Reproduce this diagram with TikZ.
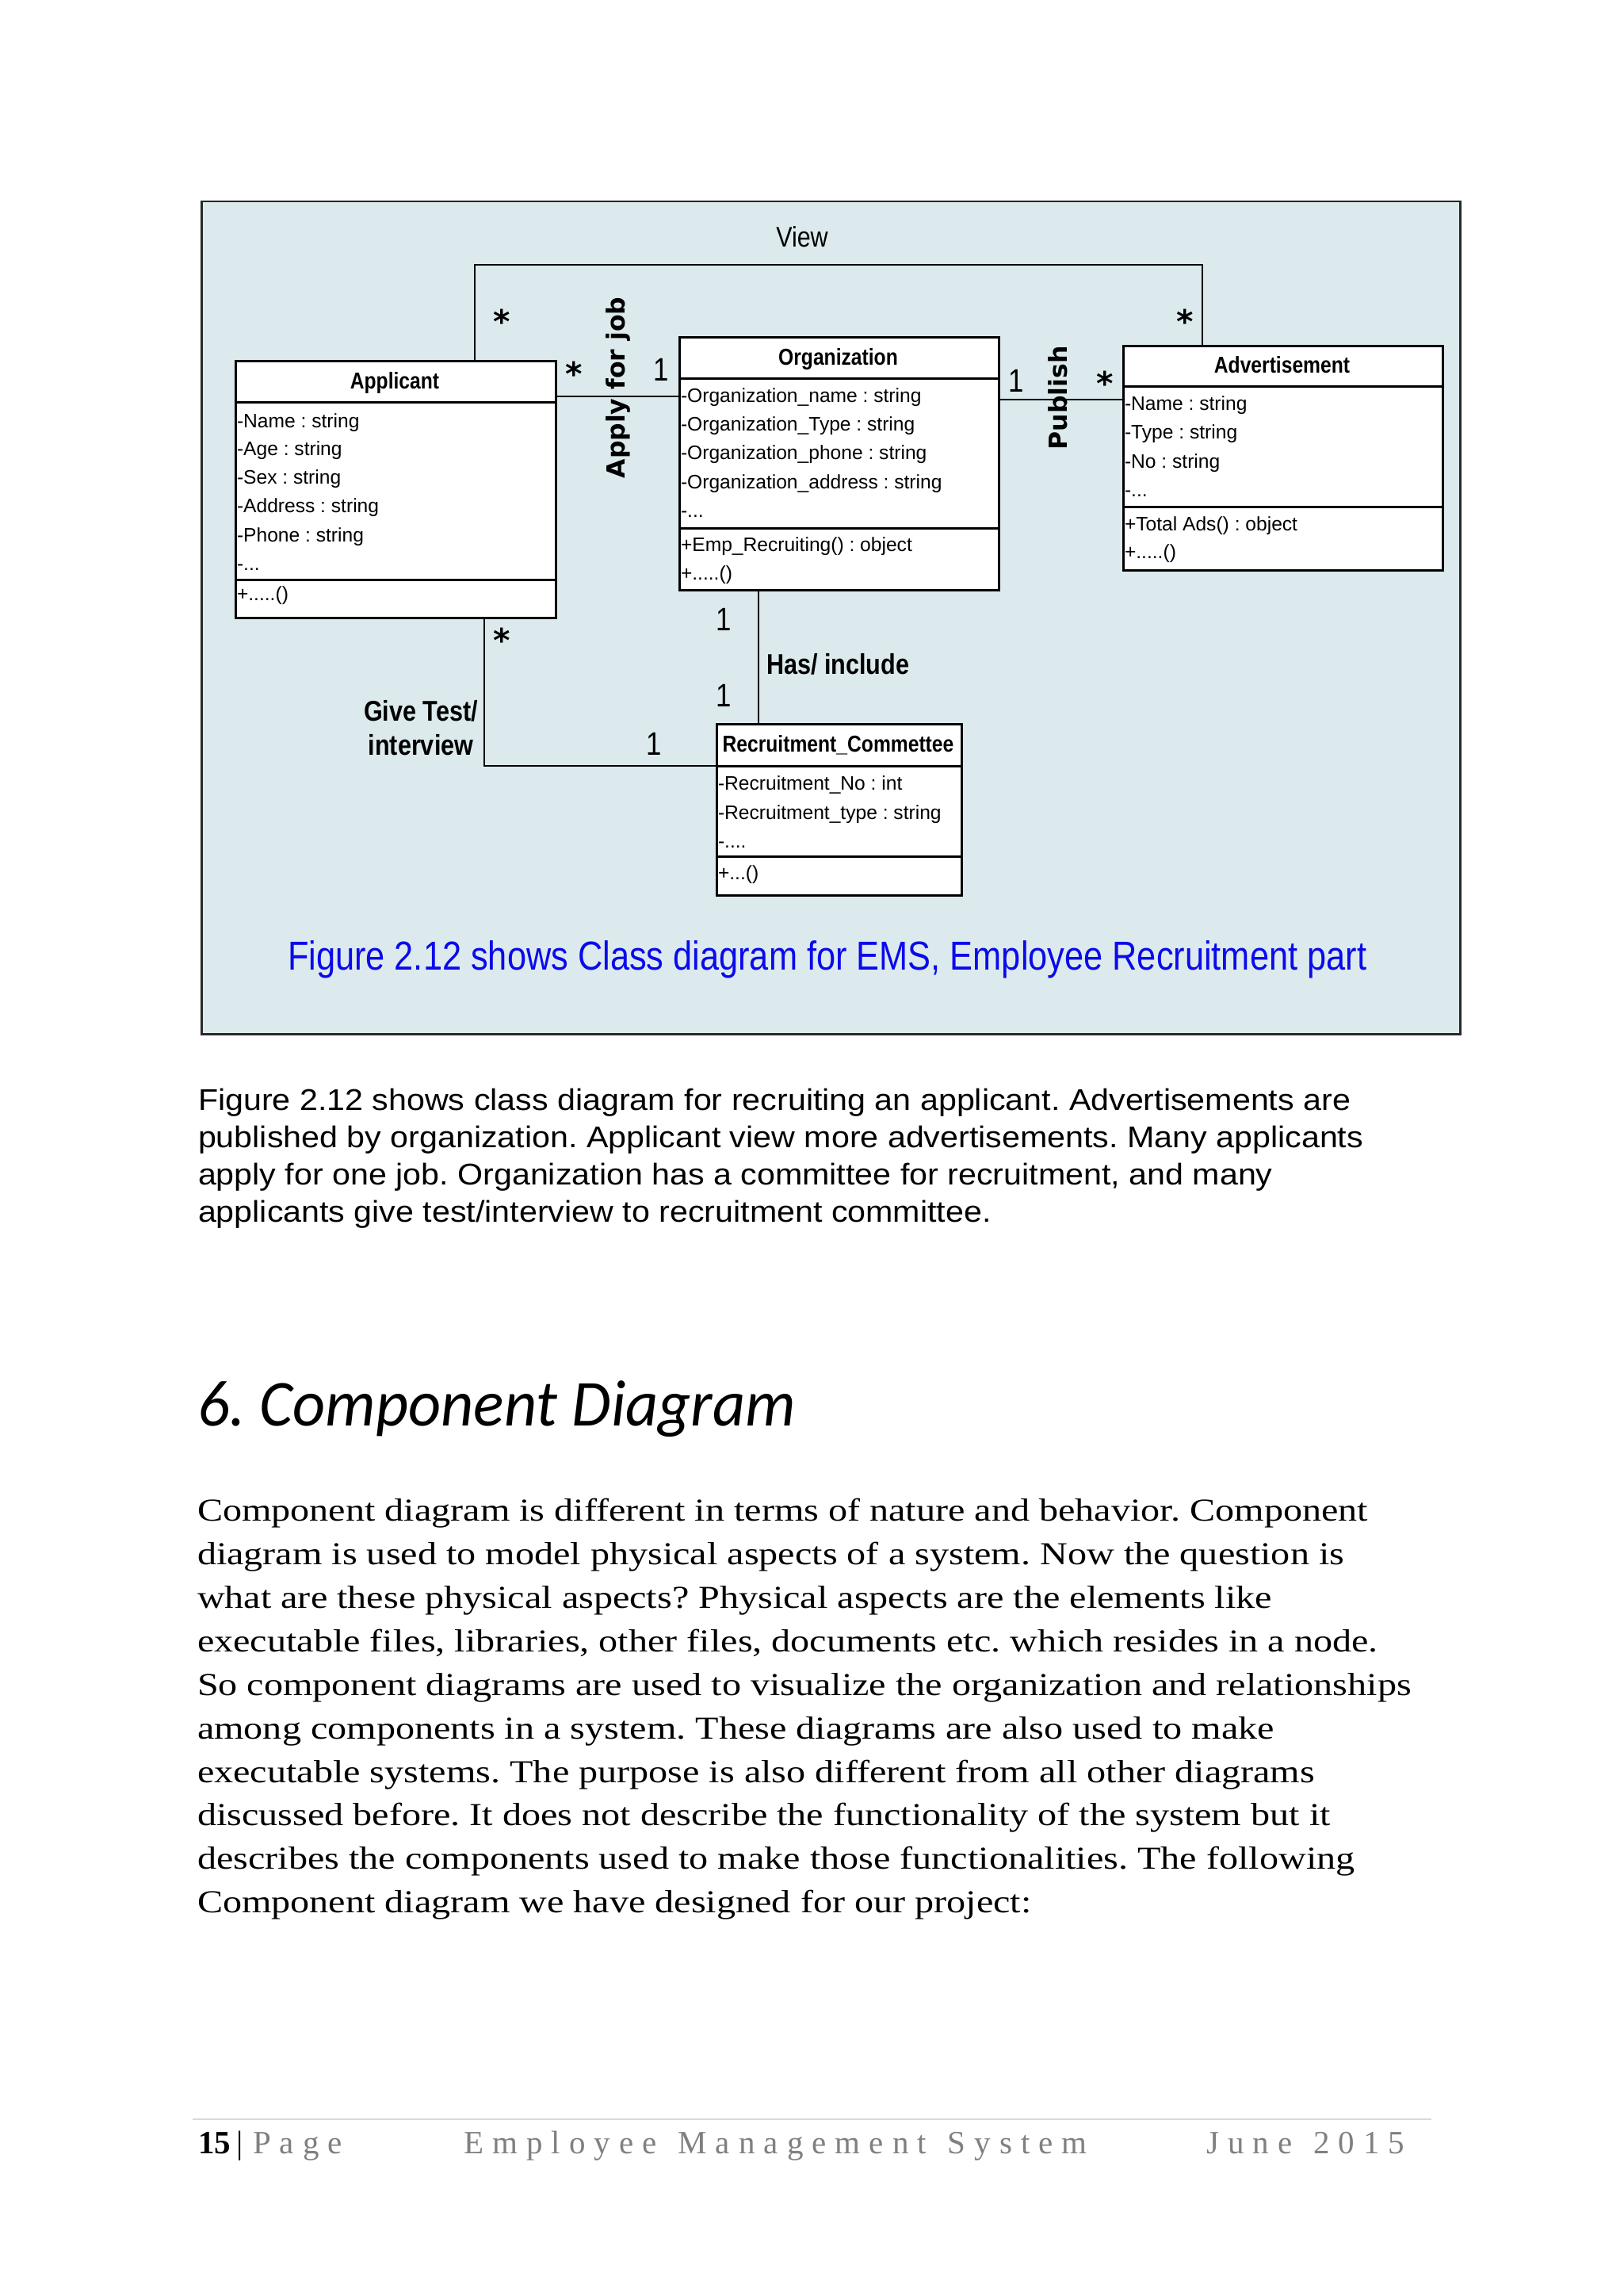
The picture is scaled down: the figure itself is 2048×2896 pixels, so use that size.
\documentclass[tikz,border=0pt]{standalone}
\usepackage{fontspec}
\setmainfont{Liberation Serif}
\newfontfamily\attrf{Liberation Sans}
\newfontfamily\narf[FakeStretch=0.85]{Liberation Sans}
\newfontfamily\rotf{DejaVu Sans}
\newfontfamily\paraf[FakeStretch=1.09]{Liberation Sans}
\newfontfamily\bodyf[FakeStretch=1.195]{Liberation Serif}
\newfontfamily\headf[FakeStretch=0.97]{Carlito}
\newfontfamily\footf[LetterSpace=27]{Liberation Serif}
\definecolor{bgc}{RGB}{220,234,237}
\definecolor{framec}{RGB}{40,40,40}
\definecolor{capblue}{RGB}{10,10,235}
\definecolor{footgray}{RGB}{128,128,128}
\definecolor{footline}{RGB}{217,217,217}
\newcommand\fgap{\hspace{1.6pt}}
\begin{document}
\frenchspacing
\begin{tikzpicture}[x=0.3pt,y=-0.3pt,
  txt/.style={inner sep=0pt, outer sep=0pt},
  cls/.style={draw=black, fill=white, line width=0.9pt, inner sep=0pt, anchor=north west},
  sep/.style={draw=black, line width=0.9pt},
  conn/.style={draw=black, line width=0.75pt},
  attr/.style={txt, anchor=base west, font=\attrf\fontsize{7.38}{8}\selectfont},
  ttl/.style={txt, anchor=base, font=\narf\bfseries\fontsize{8.7}{9}\selectfont},
  mult/.style={txt, anchor=base, font=\narf\fontsize{12.3}{13}\selectfont},
  star/.style={txt, anchor=base, font=\rotf\bfseries\fontsize{12.3}{13}\selectfont},
  lbl/.style={txt, font=\narf\bfseries\fontsize{10.8}{12.9}\selectfont},
  rot/.style={txt, anchor=base, rotate=90, font=\rotf\bfseries\fontsize{9.45}{10}\selectfont},
  para/.style={txt, anchor=base west, font=\paraf\fontsize{11.34}{13}\selectfont},
  body/.style={txt, anchor=base west, font=\bodyf\fontsize{12.09}{14}\selectfont},
  foot/.style={txt, anchor=base west, text=footgray, font=\footf\fontsize{12.3}{13}\selectfont},
]
\useasboundingbox (0,0) rectangle (2048,2896);
\fill[white] (0,0) rectangle (2048,2896);

% panel
\node[draw=framec, fill=bgc, line width=0.75pt, inner sep=0pt, anchor=north west,
      minimum width=476.4pt, minimum height=315pt] (panel) at (253,253) {};

% class boxes
\node[cls, minimum width=121.2pt, minimum height=97.2pt] (app) at (296,454) {};
\node[cls, minimum width=120.9pt, minimum height=95.7pt] (org) at (856,424) {};
\node[cls, minimum width=120.9pt, minimum height=84.9pt] (adv) at (1416,435) {};
\node[cls, minimum width=92.7pt, minimum height=64.8pt] (rec) at (903,912) {};

% compartments
\draw[sep] (app.west |- 0,508) -- (app.east |- 0,508);
\draw[sep] (app.west |- 0,731) -- (app.east |- 0,731);
\draw[sep] (org.west |- 0,478) -- (org.east |- 0,478);
\draw[sep] (org.west |- 0,666) -- (org.east |- 0,666);
\draw[sep] (adv.west |- 0,488) -- (adv.east |- 0,488);
\draw[sep] (adv.west |- 0,639) -- (adv.east |- 0,639);
\draw[sep] (rec.west |- 0,966) -- (rec.east |- 0,966);
\draw[sep] (rec.west |- 0,1080) -- (rec.east |- 0,1080);

% Applicant text
\node[ttl] (appt) at (498,491) {Applicant};
\node[attr] (appa1) at (299,539) {-Name : string};
\node[attr] (appa2) at (299,575) {-Age : string};
\node[attr] (appa3) at (299,611) {-Sex : string};
\node[attr] (appa4) at (299,647) {-Address : string};
\node[attr] (appa5) at (299,683) {-Phone : string};
\node[attr] (appa6) at (299,719) {-...};
\node[attr] (appm1) at (299,757) {+.....()};

% Organization text
\node[ttl] (orgt) at (1057.5,461) {Organization};
\node[attr] (orga1) at (859,508) {-Organization\textunderscore name : string};
\node[attr] (orga2) at (859,544) {-Organization\textunderscore Type : string};
\node[attr] (orga3) at (859,580) {-Organization\textunderscore phone : string};
\node[attr] (orga4) at (859,616) {-Organization\textunderscore address : string};
\node[attr] (orga5) at (859,652) {-...};
\node[attr] (orgm1) at (859,695) {+Emp\textunderscore Recruiting() : object};
\node[attr] (orgm2) at (859,731) {+.....()};

% Advertisement text
\node[ttl] (advt) at (1617.5,471) {Advertisement};
\node[attr] (adva1) at (1419,518) {-Name : string};
\node[attr] (adva2) at (1419,554) {-Type : string};
\node[attr] (adva3) at (1419,590) {-No : string};
\node[attr] (adva4) at (1419,626) {-...};
\node[attr] (advm1) at (1419,669) {+Total Ads() : object};
\node[attr] (advm2) at (1419,704) {+.....()};

% Recruitment text
\node[ttl] (rect) at (1057.5,948) {Recruitment\textunderscore Commettee};
\node[attr] (reca1) at (906,996) {-Recruitment\textunderscore No : int};
\node[attr] (reca2) at (906,1033) {-Recruitment\textunderscore type : string};
\node[attr] (reca3) at (906,1069) {-....};
\node[attr] (recm1) at (906,1109) {+...()};

% connectors
\coordinate (v1) at (599,334);
\coordinate (v2) at (1517,334);
\draw[conn] (app.north -| v1) -- (v1) -- (v2) -- (adv.north -| v2);
\coordinate (aj) at (780,500);
\draw[conn] (app.east |- aj) -- (org.west |- aj);
\coordinate (pb) at (1335,504);
\draw[conn] (org.east |- pb) -- (adv.west |- pb);
\coordinate (hi) at (957,830);
\draw[conn] (org.south -| hi) -- (rec.north -| hi);
\coordinate (g1) at (611,966);
\draw[conn] (app.south -| g1) -- (g1) -- (rec.west |- g1);

% association labels
\node[txt, anchor=base, font=\narf\fontsize{10.74}{12}\selectfont] (view) at (1012,312) {View};
\node[star] (s1) at (633,421) {*};
\node[star] (s2) at (1495,421) {*};
\node[star] (s3) at (724,487) {*};
\node[star] (s4) at (1394,499) {*};
\node[star] (s5) at (633,822) {*};
\node[mult] (m1) at (834,481) {1};
\node[mult] (m2) at (1282,495) {1};
\node[mult] (m3) at (913,795) {1};
\node[mult] (m4) at (913,891) {1};
\node[mult] (m5) at (825,952) {1};
\node[rot] (apply) at (788,489) {Apply for job};
\node[rot] (publish) at (1346,502) {Publish};
\node[lbl, anchor=base west] (has) at (967,850) {Has/ include};
\node[lbl, anchor=base] (give1) at (531,909) {Give Test/};
\node[lbl, anchor=base] (give2) at (531,952) {interview};

% caption
\node[txt, anchor=base west, text=capblue, font=\narf\fontsize{15.3}{17}\selectfont] (cap) at (363,1223)
  {Figure 2.12 shows Class diagram for EMS, Employee Recruitment part};

% paragraph
\node[para] (p1) at (250,1400) {Figure 2.12 shows class diagram for recruiting an applicant. Advertisements are};
\node[para] (p2) at (250,1447) {published by organization. Applicant view more advertisements. Many applicants};
\node[para] (p3) at (250,1494) {apply for one job. Organization has a committee for recruitment, and many};
\node[para] (p4) at (250,1541) {applicants give test/interview to recruitment committee.};

% heading
\node[txt, anchor=base west, font=\headf\itshape\fontsize{24.8}{30}\selectfont] (head) at (249,1798) {6. Component Diagram};

% body
\node[body] (b1) at (249,1918) {Component diagram is different in terms of nature and behavior. Component};
\node[body] (b2) at (249,1973) {diagram is used to model physical aspects of a system. Now the question is};
\node[body] (b3) at (249,2028) {what are these physical aspects? Physical aspects are the elements like};
\node[body] (b4) at (249,2083) {executable files, libraries, other files, documents etc. which resides in a node.};
\node[body] (b5) at (249,2138) {So component diagrams are used to visualize the organization and relationships};
\node[body] (b6) at (249,2193) {among components in a system. These diagrams are also used to make};
\node[body] (b7) at (249,2248) {executable systems. The purpose is also different from all other diagrams};
\node[body] (b8) at (249,2302) {discussed before. It does not describe the functionality of the system but it};
\node[body] (b9) at (249,2357) {describes the components used to make those functionalities. The following};
\node[body] (b10) at (249,2412) {Component diagram we have designed for our project:};

% footer
\coordinate (fl1) at (243,2673);
\coordinate (fl2) at (1806,2673);
\draw[footline, line width=0.6pt] (fl1) -- (fl2);
\node[txt, anchor=base west, font=\bfseries\fontsize{12.3}{13}\selectfont] (pg) at (250,2716) {15};
\node[txt, anchor=base west, font=\fontsize{12.3}{13}\selectfont] (bar) at (298,2716) {|};
\node[foot] (fpage) at (319,2716) {Page};
\node[foot] (fems) at (585,2716) {Employee\fgap{} Management\fgap{} System};
\node[foot] (fdate) at (1522,2716) {June\fgap{} 2015};
\end{tikzpicture}
\end{document}
